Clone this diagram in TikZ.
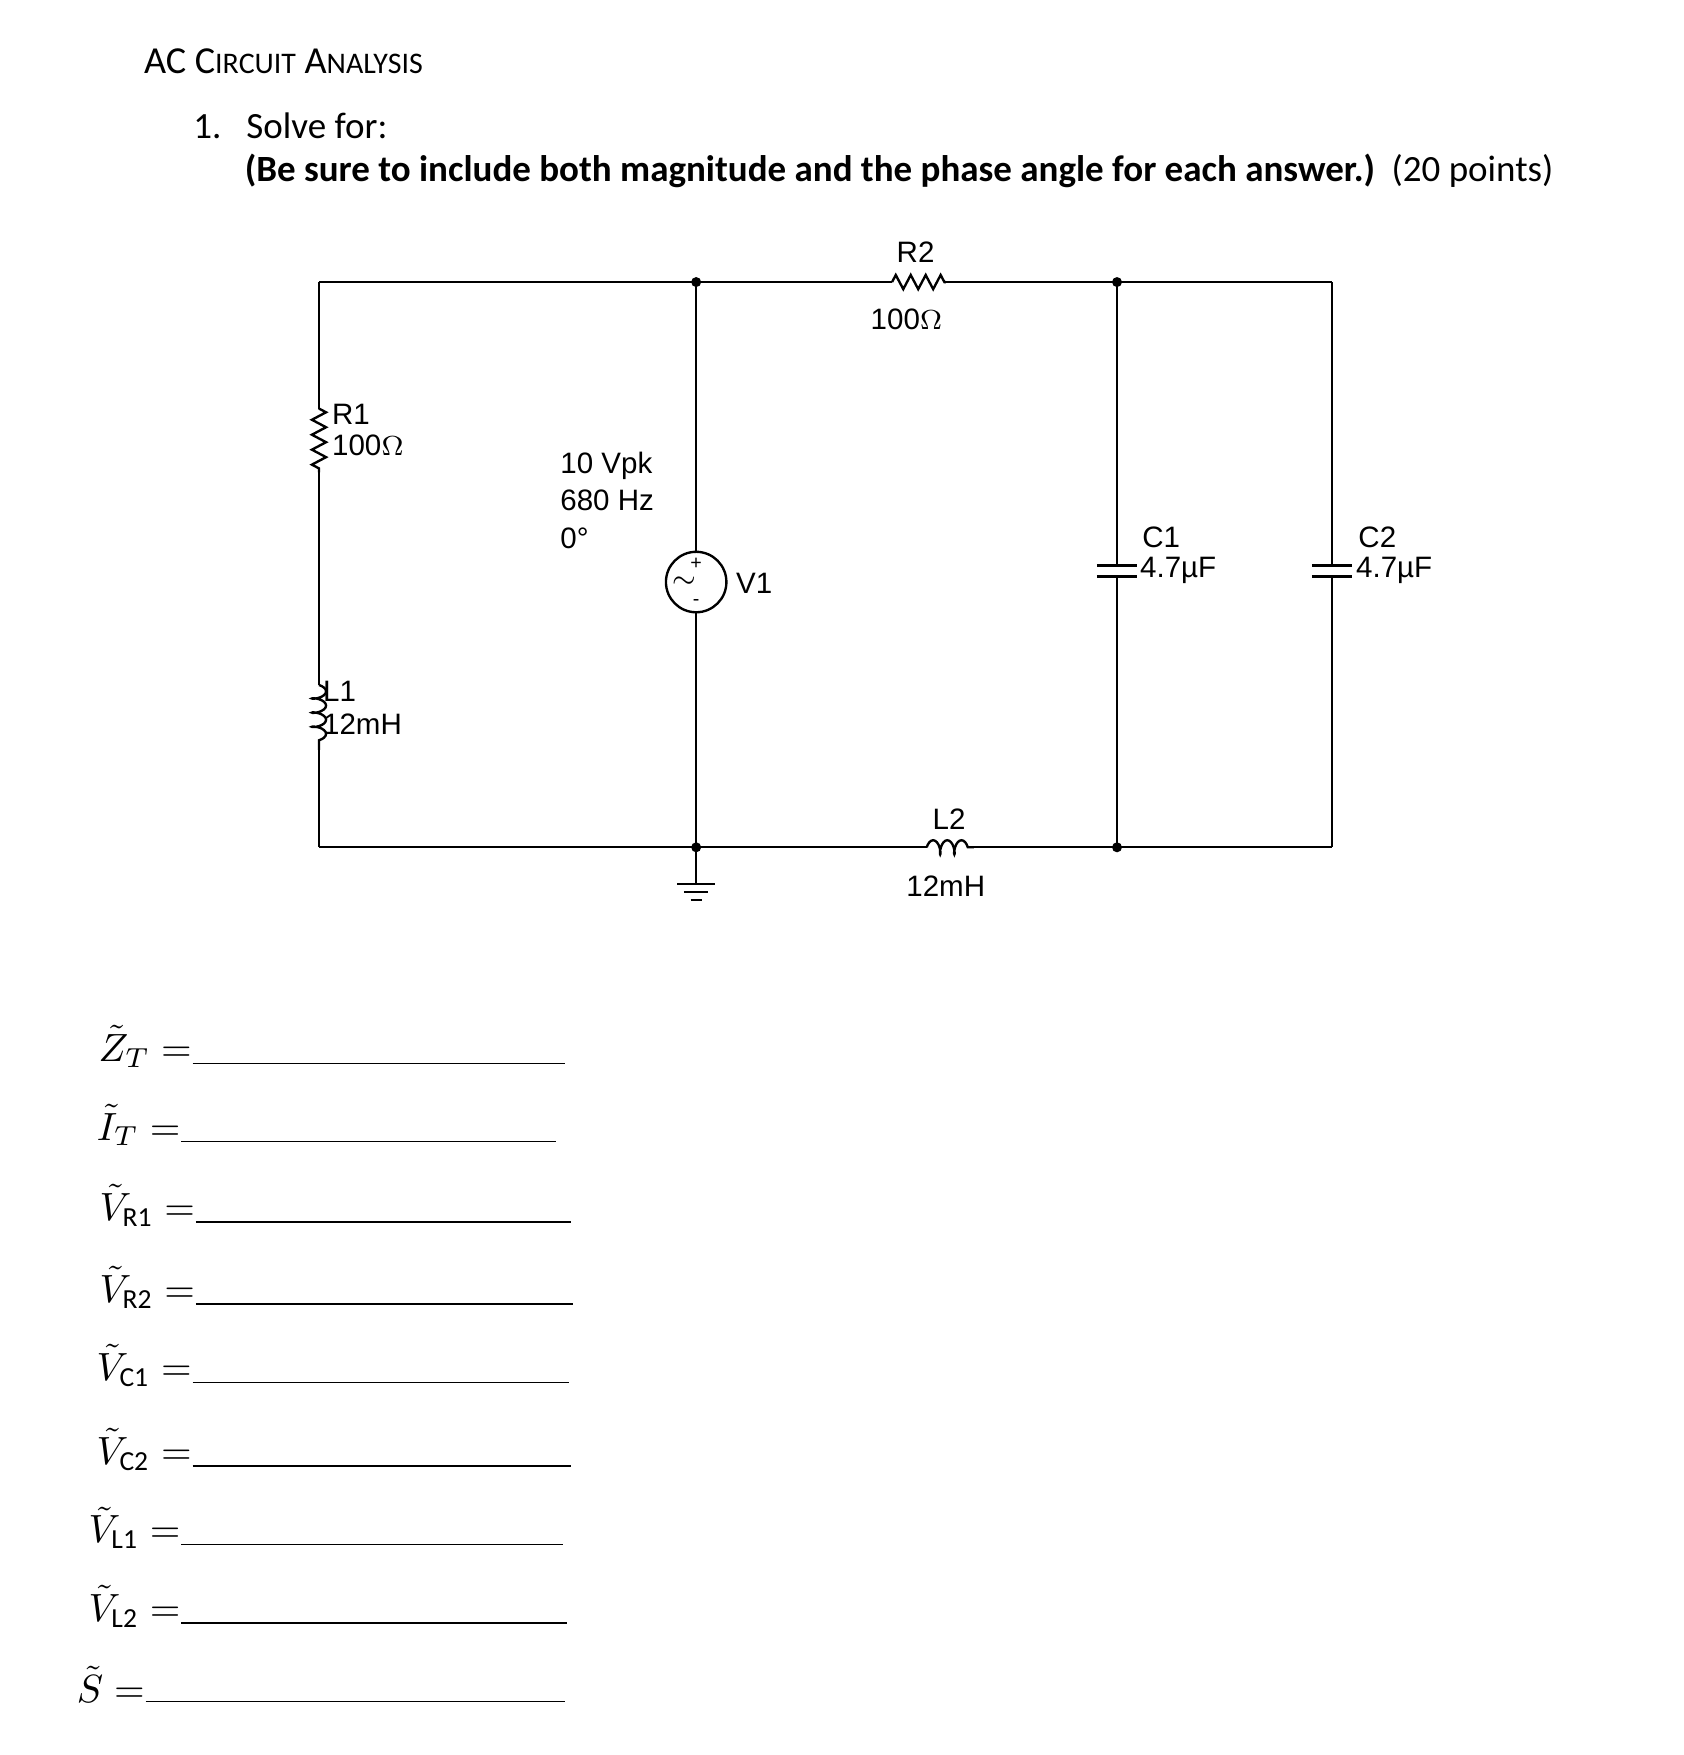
\documentclass[tikz,border=0pt]{standalone}
\usepackage{fontspec}
\setmainfont{Carlito}
\newfontfamily\arial{Liberation Sans}
\usetikzlibrary{decorations.pathmorphing,calc}
\newcommand{\smc}[1]{{\fontsize{7.6}{9}\selectfont #1}}
\begin{document}
\begin{tikzpicture}[x=0.01cm,y=-0.01cm,
 wire/.style={line width=0.6pt},
 lab/.style={font=\arial\fontsize{7.5}{8.5}\selectfont,inner sep=0pt},
 eq/.style={font=\fontsize{10}{11}\selectfont,anchor=east,inner sep=0pt},
 ans/.style={line width=0.4pt},
 dotn/.style={circle,fill,inner sep=0.9pt},
 zig/.style={decorate,decoration={zigzag,segment length=3.8pt,amplitude=1.8pt},line width=0.6pt},
 coil/.style={decorate,decoration={coil,segment length=3.6pt,amplitude=1.8pt,aspect=0.4},line width=0.6pt}]
\fill[white] (0,0) rectangle (1504,1568);
\useasboundingbox (0,0) rectangle (1504,1568);
\node[anchor=west,font=\fontsize{9.7}{11}\selectfont,inner sep=0pt] (title) at (128,55) {AC C\smc{IRCUIT} A\smc{NALYSIS}};
\node[anchor=west,font=\fontsize{9.4}{11}\selectfont,inner sep=0pt] (q1) at (172,112) {1.\ \ \ Solve for:};
\node[anchor=west,font=\bfseries\fontsize{9.4}{11}\selectfont,inner sep=0pt] (q2) at (218,153) {(Be sure to include both magnitude and the phase angle for each answer.)\ \ \mdseries(20 points)};
\coordinate (tl) at (285,252); \coordinate (tv) at (622,252); \coordinate (tr2a) at (797,252);
\coordinate (tr2b) at (845,252); \coordinate (tc1) at (998,252); \coordinate (tc2) at (1190,252);
\coordinate (bl) at (285,757); \coordinate (bv) at (622,757); \coordinate (bl2a) at (828,757);
\coordinate (bl2b) at (870,757); \coordinate (bc1) at (998,757); \coordinate (bc2) at (1190,757);
\coordinate (r1a) at (285,365); \coordinate (r1b) at (285,422);
\coordinate (l1a) at (285,612); \coordinate (l1b) at (285,670);
\coordinate (c1a) at (998,505); \coordinate (c1b) at (998,515);
\coordinate (c2a) at (1190,505); \coordinate (c2b) at (1190,515);
\node[circle,draw,line width=0.6pt,minimum size=0.54cm,inner sep=0pt] (src) at (622,520) {};
\draw[wire] (tl) -- (tv) -- (tr2a); \draw[zig] (tr2a) -- (tr2b); \draw[wire] (tr2b) -- (tc1) -- (tc2);
\draw[wire] (bl) -- (bv) -- (bl2a); \draw[coil] (bl2a) -- (bl2b); \draw[wire] (bl2b) -- (bc1) -- (bc2);
\draw[wire] (tl) -- (r1a); \draw[zig] (r1a) -- (r1b); \draw[wire] (r1b) -- (l1a); \draw[coil] (l1a) -- (l1b); \draw[wire] (l1b) -- (bl);
\draw[wire] (tv) -- (src.north) (src.south) -- (bv);
\draw[wire] (tc1) -- (c1a) (c1b) -- (bc1); \draw[line width=0.8pt] ($(c1a)+(-18,0)$) -- ($(c1a)+(18,0)$) ($(c1b)+(-18,0)$) -- ($(c1b)+(18,0)$);
\draw[wire] (tc2) -- (c2a) (c2b) -- (bc2); \draw[line width=0.8pt] ($(c2a)+(-18,0)$) -- ($(c2a)+(18,0)$) ($(c2b)+(-18,0)$) -- ($(c2b)+(18,0)$);
\foreach \p in {tv,bv,tc1,bc1} \node[dotn] at (\p) {};
\coordinate (g) at (622,790);
\draw[wire] (bv) -- (g);
\draw[line width=0.6pt] (605,790) -- (639,790) (611,797) -- (633,797) (617,804) -- (627,804);
\node[lab,font=\arial\fontsize{5}{6}\selectfont] at (622,504) {+};
\node[lab,font=\arial\fontsize{5}{6}\selectfont] at (622,538) {-};
\node[lab] at (611,520) {$\sim$};
\node[lab,anchor=west] (R1l) at (296,370) {R1};
\node[lab,anchor=west] at (296,398) {100$\Omega$};
\node[lab,anchor=west] at (288,618) {L1};
\node[lab,anchor=west] at (288,647) {12mH};
\node[lab,anchor=west,align=left] at (500,447) {10 Vpk\\[1pt]680 Hz\\[1pt]0°};
\node[lab,anchor=west] at (657,521) {V1};
\node[lab] at (818,225) {R2};
\node[lab] at (810,285) {100$\Omega$};
\node[lab] at (848,732) {L2};
\node[lab] at (845,792) {12mH};
\node[lab,anchor=west] at (1020,480) {C1};
\node[lab,anchor=west] at (1018,510) {4.7µF};
\node[lab,anchor=west] at (1213,480) {C2};
\node[lab,anchor=west] at (1211,510) {4.7µF};
\foreach \y/\t/\xa/\xb in {935/{\tilde Z_T=}/172/505, 1005/{\tilde I_T=}/162/497, 1077/{\tilde V_{\mathrm{R1}}=}/175/510, 1150/{\tilde V_{\mathrm{R2}}=}/175/512, 1220/{\tilde V_{\mathrm{C1}}=}/172/508, 1295/{\tilde V_{\mathrm{C2}}=}/172/510, 1365/{\tilde V_{\mathrm{L1}}=}/162/503, 1435/{\tilde V_{\mathrm{L2}}=}/162/507, 1505/{\tilde S=}/130/505}
{\node[eq] at (\xa,\y) {$\t$};
 \draw[ans] (\xa,\y+15) -- (\xb,\y+15);}
\end{tikzpicture}
\end{document}
